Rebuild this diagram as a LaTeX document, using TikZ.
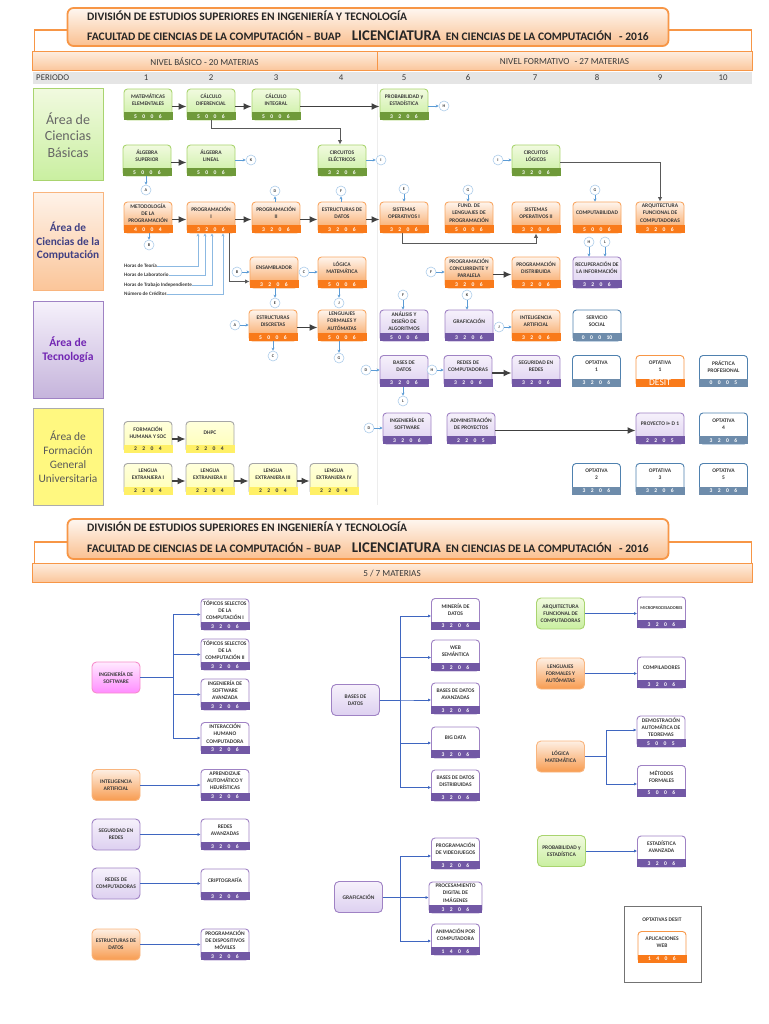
\documentclass[tikz,border=0pt]{standalone}
\usepackage{fontspec}
\setmainfont{Carlito}
\usetikzlibrary{calc,arrows.meta}
\definecolor{ink}{HTML}{3A3A3A}
\definecolor{hdr}{HTML}{F79646}
\definecolor{wire}{HTML}{5B9BD5}
\definecolor{busline}{HTML}{3F66C0}
\definecolor{grnedge}{HTML}{A9D46F}
\definecolor{grntop}{HTML}{F1FADF}
\definecolor{grnbot}{HTML}{C9EFA0}
\definecolor{grnbar}{HTML}{6F9A3A}
\definecolor{orgbar}{HTML}{F97A1A}
\definecolor{puredge}{HTML}{9F82C4}
\definecolor{purtop}{HTML}{F6F1FB}
\definecolor{purbot}{HTML}{DDD0F0}
\definecolor{purbar}{HTML}{7258A5}
\definecolor{yeltop}{HTML}{FFFFDC}
\definecolor{yelbot}{HTML}{FFFFB4}
\definecolor{yelbar}{HTML}{FFF066}
\definecolor{bluedge}{HTML}{4F81AF}
\definecolor{blubar}{HTML}{6E8CAB}
\newcommand{\subjfont}{\fontsize{5.5}{7.2}\selectfont\bfseries}
\newcommand{\bandfont}{\fontsize{5.6}{6}\selectfont\bfseries\spaceskip=5.4pt\relax}
\tikzset{%
  subj/.style={rectangle,rounded corners=3.5pt,minimum width=48pt,minimum height=31pt,
    inner sep=0pt,line width=.9pt,draw},
  band/.style={anchor=south,minimum width=49pt,minimum height=8pt,inner sep=0pt,
    text=white,font=\bandfont},
  subjtext/.style={align=center,inner sep=0pt,text=ink,font=\subjfont},
  grn/.style={subj,draw=grnedge,top color=grntop,bottom color=grnbot},
  grnband/.style={band,fill=grnbar},
  org/.style={subj,draw=hdr!85,top color=hdr!10,bottom color=hdr!90},
  orgband/.style={band,fill=orgbar},
  pur/.style={subj,draw=puredge,top color=purtop,bottom color=purbot},
  purband/.style={band,fill=purbar},
  yel/.style={subj,draw=gray!70,top color=yeltop,bottom color=yelbot},
  yelband/.style={band,fill=yelbar,text=ink},
  blu/.style={subj,draw=bluedge,fill=white},
  bluband/.style={band,fill=blubar},
  wpur/.style={subj,draw=puredge,fill=white},
  wpurband/.style={band,fill=purbar},
  wdes/.style={subj,draw=hdr,fill=white},
  wdesband/.style={band,fill=orgbar},
  srcbox/.style={rectangle,rounded corners=4.5pt,minimum width=48pt,minimum height=31pt,
    inner sep=0pt,align=center,line width=.9pt,draw,text=ink,font=\subjfont},
  srcorg/.style={srcbox,draw=hdr!70,top color=hdr!15,bottom color=hdr!95},
  srcpur/.style={srcbox,draw=puredge,top color=purtop,bottom color=purbot},
  srcgrn/.style={srcbox,draw=grnedge,top color=grntop,bottom color=grnbot},
  area/.style={minimum width=70pt,inner sep=0pt,align=center,line width=1pt,draw},
  ltr/.style={circle,draw=wire!50,fill=white,line width=.6pt,minimum size=10pt,inner sep=0pt,
    text=ink,font=\fontsize{4.2}{5}\selectfont\bfseries},
  link/.style={draw=wire,line width=.7pt,-{Stealth[length=3pt,width=3pt]}},
  next/.style={draw=black!75,line width=1.4pt,-{Latex[length=8pt,width=7pt]}},
  elbow/.style={draw=black!65,line width=1pt,-{Latex[length=4.5pt,width=4.5pt]}},
  legwire/.style={draw=wire!70,line width=.7pt,-{Stealth[length=3pt,width=3pt]}},
  branch/.style={draw=busline,line width=.9pt,-{Latex[length=3pt,width=3pt]}},
  banner/.style={rounded corners=6pt,draw=hdr,line width=1.8pt,top color=hdr!8,bottom color=hdr!60},
  backing/.style={draw=hdr,line width=1.8pt,fill=white,minimum width=717pt,minimum height=22pt,inner sep=0pt},
  strip/.style={draw=hdr,line width=1pt,top color=hdr!18,bottom color=hdr!55,inner sep=0pt,
    text=ink,font=\fontsize{9.2}{10}\selectfont},
  hline/.style={anchor=west,inner sep=0pt,text=black!85,font=\fontsize{11.5}{13}\selectfont\bfseries},
  per/.style={inner sep=0pt,text=ink,font=\fontsize{8.8}{10}\selectfont},
  leg/.style={anchor=west,inner sep=0pt,text=ink,font=\fontsize{5.1}{6}\selectfont\bfseries}
}
% box, band and text of one subject
\newcommand{\subj}[7][]{%
  \node[#2,#1] (#3) at (#4,#5) {};
  \node[#2band,#1] (#3b) at (#3.south) {#7};
  \node[subjtext] (#3t) at ([yshift=-11.5pt]#3.north) {#6};
}
\begin{document}
\begin{tikzpicture}[x=1pt,y=-1pt]
  \useasboundingbox (0,0) rectangle (768,1024);

  % first page head
  \node[backing] (back) at (393,41) {};
  \node[banner,minimum width=601pt,minimum height=38pt] (head) at (368,27) {};
  \node[hline] (hone) at (87,16) {DIVISIÓN DE ESTUDIOS SUPERIORES EN INGENIERÍA Y TECNOLOGÍA};
  \node[hline] (htwo) at (87,36) {FACULTAD DE CIENCIAS DE LA COMPUTACIÓN – BUAP\hspace{11pt}{\fontsize{14.8}{14}\selectfont LICENCIATURA}\hspace{5pt}EN CIENCIAS DE LA COMPUTACIÓN\hspace{5pt} - 2016};
  \node[strip,minimum width=345pt,minimum height=19pt] (basic) at (204.5,61.5) {NIVEL BÁSICO - 20 MATERIAS\hspace{29pt}};
  \node[strip,minimum width=375pt,minimum height=19pt] (form) at (564.5,61.5) {NIVEL FORMATIVO\hspace{3pt} - 27 MATERIAS\hspace{41pt}};
  \node[fill=black!10,minimum width=719pt,minimum height=12.5pt,inner sep=0pt] (bar) at (392.5,78) {};
  \node[per,anchor=west] (periodo) at (36,78) {PERIODO};
  \foreach \n/\x in {1/146,2/211,3/276,4/341,5/404,6/468,7/535,8/597,9/660,10/723}
    \node[per] (p\n) at (\x,78) {\n};
  \draw[black!7,line width=.6pt] (377,84) -- (377,505);

  % areas
  \node[area,draw=grnedge,top color=grntop,bottom color=grnbot,
    minimum height=92pt,text=black!60,font=\fontsize{14}{16.5}\selectfont] (acb) at (68,135) {Área de\\Ciencias\\Básicas};
  \node[area,draw=hdr!70,top color=hdr!12,bottom color=hdr!55,minimum height=97pt,
    text=blue!35!black!75,font=\fontsize{11.3}{13.6}\selectfont\bfseries] (acc) at (68,241.5) {Área de\\Ciencias de la\\Computación};
  \node[area,draw=puredge,top color=purtop,bottom color=puredge!60,minimum height=97pt,
    text=violet!70!blue!85,font=\fontsize{11.6}{14}\selectfont\bfseries] (atc) at (68,349.5) {Área de\\Tecnología};
  \node[area,draw=gray!65,fill=yellow!50,minimum height=97pt,text=black!65,
    font=\fontsize{11.4}{14}\selectfont] (afg) at (68,456.5) {Área de\\Formación\\General\\Universitaria};

  % ciencias basicas
  \subj{grn}{mat}{148}{104.5}{MATEMÁTICAS\\ELEMENTALES}{5 0 0 6}
  \subj{grn}{cdif}{211}{104.5}{CÁLCULO\\DIFERENCIAL}{5 0 0 6}
  \subj{grn}{cint}{276}{104.5}{CÁLCULO\\INTEGRAL}{5 0 0 6}
  \subj{grn}{prob}{404}{104.5}{PROBABILIDAD y\\ESTADÍSTICA}{3 2 0 6}
  \subj{grn}{alsup}{147}{160.5}{ÁLGEBRA\\SUPERIOR}{5 0 0 6}
  \subj{grn}{allin}{211}{160.5}{ÁLGEBRA\\LINEAL}{5 0 0 6}
  \subj{grn}{ceie}{342}{160.5}{CIRCUITOS\\ELÉCTRICOS}{3 2 0 6}
  \subj{grn}{clog}{536}{160.5}{CIRCUITOS\\LÓGICOS}{3 2 0 6}

  % ciencias de la computacion
  \subj{org}{met}{148}{217.5}{METODOLOGÍA\\DE LA\\PROGRAMACIÓN}{4 0 0 4}
  \subj{org}{pi}{211}{217.5}{PROGRAMACIÓN\\I}{3 2 0 6}
  \subj{org}{pii}{276}{217.5}{PROGRAMACIÓN\\II}{3 2 0 6}
  \subj{org}{edat}{342}{217.5}{ESTRUCTURAS DE\\DATOS}{3 2 0 6}
  \subj{org}{soi}{404}{217.5}{SISTEMAS\\OPERATIVOS I}{3 2 0 6}
  \subj{org}{fund}{469}{217.5}{FUND. DE\\LENGUAJES DE\\PROGRAMACIÓN}{5 0 0 6}
  \subj{org}{soii}{536}{217.5}{SISTEMAS\\OPERATIVOS II}{3 2 0 6}
  \subj{org}{comp}{597}{217.5}{COMPUTABILIDAD}{5 0 0 6}
  \subj{org}{arq}{660}{217.5}{ARQUITECTURA\\FUNCIONAL DE\\COMPUTADORAS}{3 2 0 6}
  \subj{org}{ens}{274}{272.5}{ENSAMBLADOR}{3 2 0 6}
  \subj{org}{lmat}{342}{272.5}{LÓGICA\\MATEMÁTICA}{5 0 0 6}
  \subj{org}{pcon}{469}{272.5}{PROGRAMACIÓN\\CONCURRENTE Y\\PARALELA}{3 2 0 6}
  \subj{org}{pdis}{536}{272.5}{PROGRAMACIÓN\\DISTRIBUIDA}{3 2 0 6}
  \subj{org}{edis}{273}{325.5}{ESTRUCTURAS\\DISCRETAS}{5 0 0 6}
  \subj{org}{lfor}{342}{325.5}{LENGUAJES\\FORMALES Y\\AUTÓMATAS}{5 0 0 6}
  \subj{org}{iart}{536}{325.5}{INTELIGENCIA\\ARTIFICIAL}{3 2 0 6}

  % tecnologia
  \subj{pur}{rinf}{597}{272.5}{RECUPERACIÓN DE\\LA INFORMACIÓN}{3 2 0 6}
  \subj{pur}{adis}{404}{325.5}{ANÁLISIS Y\\DISEÑO DE\\ALGORITMOS}{5 0 0 6}
  \subj{pur}{graf}{469}{325.5}{GRAFICACIÓN}{3 2 0 6}
  \subj{pur}{bdat}{404}{371}{BASES DE\\DATOS}{3 2 0 6}
  \subj{pur}{rcom}{468}{371}{REDES DE\\COMPUTADORAS}{3 2 0 6}
  \subj{pur}{sred}{536}{371}{SEGURIDAD EN\\REDES}{3 2 0 6}
  \subj{pur}{isof}{407}{428.5}{INGENIERÍA DE\\SOFTWARE}{3 2 0 6}
  \subj{pur}{apro}{471}{428.5}{ADMINISTRACIÓN\\DE PROYECTOS}{2 2 0 5}
  \subj{pur}{pidi}{660}{428.5}{PROYECTO I+ D 1}{2 2 0 5}

  % optativas
  \subj{blu}{ssoc}{597}{325.5}{SERVICIO\\SOCIAL}{0 0 0 10}
  \subj{blu}{opa}{596.5}{371}{OPTATIVA\\1}{3 2 0 6}
  \subj{wdes}{opd}{660}{371}{OPTATIVA\\1}{\fontsize{9.5}{9}\selectfont\mdseries DESIT}
  \subj{blu}{ppro}{723.5}{371}{PRÁCTICA\\PROFESIONAL}{0 0 0 5}
  \subj{blu}{opc}{723.5}{428.5}{OPTATIVA\\4}{3 2 0 6}
  \subj{blu}{opb}{596.5}{479}{OPTATIVA\\2}{3 2 0 6}
  \subj{blu}{opt}{660}{479}{OPTATIVA\\3}{3 2 0 6}
  \subj{blu}{opq}{723.5}{479}{OPTATIVA\\5}{3 2 0 6}

  % formacion general
  \subj{yel}{fhs}{148}{437}{FORMACIÓN\\HUMANA Y SOC}{2 2 0 4}
  \subj{yel}{dhpc}{210}{437}{DHPC}{2 2 0 4}
  \subj{yel}{lei}{148}{479}{LENGUA\\EXTRANJERA I}{2 2 0 4}
  \subj{yel}{leii}{210}{479}{LENGUA\\EXTRANJERA II}{2 2 0 4}
  \subj{yel}{leiii}{273}{479}{LENGUA\\EXTRANJERA III}{2 2 0 4}
  \subj{yel}{leiv}{334}{479}{LENGUA\\EXTRANJERA IV}{2 2 0 4}

  % letters
  \foreach \id/\tx/\x/\y in {aa/A/146/190,kk/K/251/160,ii/I/381/160,hh/H/444/106,ij/I/498/160,
      dd/D/275/191,ff/F/341/191,bb/B/149/245,ee/E/404/189,gg/G/468/190,gh/G/595/190,
      hi/H/589/242,ll/L/605/242,bc/B/237/272,cc/C/304/272,ef/E/275/303,jj/J/339/303,
      ab/A/235/325,cd/C/273/356,gi/G/339/358,fg/F/431/272,fh/F/403/295,kl/K/467/295,
      jk/J/499/327,de/D/366/370,hj/H/432/370,lm/L/403/401,df/D/369/428}
    \node[ltr] (\id) at (\x,\y) {\tx};
  \foreach \a/\b in {alsup/aa,met/bb,ens/ef,lmat/jj,edis/cd,lfor/gi,bdat/lm}
    \draw[link] (\b |- \a.south) -- (\b);
  \foreach \a/\b in {pii/dd,edat/ff}
    \draw[link] (\b |- \a.north) -- (\b);
  \foreach \a/\b in {allin/kk,ceie/ii,prob/hh}
    \draw[link] (\a.east |- \b) -- (\b);
  \foreach \b/\a in {ee/soi,gg/fund,gh/comp,hi/rinf,ll/rinf,fh/adis,kl/graf}
    \draw[link] (\b) -- (\b |- \a.north);
  \foreach \b/\a in {ij/clog,bc/ens,cc/lmat,ab/edis,fg/pcon,jk/iart,de/bdat,hj/rcom,df/isof}
    \draw[link] (\b) -- (\a.west |- \b);

  % straight lines between subjects
  \foreach \a/\b in {mat/cdif,cdif/cint,cint/prob,alsup/allin,met/pi,pi/pii,pii/edat,edat/soi,
      edis/lfor,pcon/pdis,rcom/sred,apro/pidi,fhs/dhpc,lei/leii,leii/leiii,leiii/leiv}
    \draw[next] ([yshift=-2pt]\a.east) -- ([yshift=-2pt]\b.west);

  % elbows
  \draw[elbow] (cdif.south) -- ++(0,8) -| ([xshift=-2pt]ceie.north);
  \draw[elbow] ([xshift=-2pt]soi.south) -- ++(0,10) -| (soii.south);
  \draw[elbow] ([yshift=-2pt]clog.east) -| (arq.north);
  \draw[elbow] ([xshift=18pt]pi.south) |- ([yshift=-9pt]ens.west);

  % legend
  \node[leg] (lht) at (124,266) {Horas de Teoría};
  \node[leg] (lhl) at (124,275) {Horas de Laboratorio};
  \node[leg] (lhi) at (124,285) {Horas de Trabajo Independiente};
  \node[leg] (lnc) at (124,294) {Número de Créditos};
  \draw[legwire] (lht.east) -| ([xshift=-13pt]pi.south);
  \draw[legwire] (lhl.east) -| ([xshift=-6pt]pi.south);
  \draw[legwire] (lhi.east) -| ([xshift=1pt]pi.south);
  \draw[legwire] (lnc.east) -| ([xshift=12pt]pi.south);

  % second page head
  \node[backing] (backb) at (393,553) {};
  \node[banner,minimum width=601pt,minimum height=40pt] (headb) at (368,539) {};
  \node[hline] (honeb) at (87,527) {DIVISIÓN DE ESTUDIOS SUPERIORES EN INGENIERÍA Y TECNOLOGÍA};
  \node[hline] (htwob) at (87,548) {FACULTAD DE CIENCIAS DE LA COMPUTACIÓN – BUAP\hspace{11pt}{\fontsize{14.8}{14}\selectfont LICENCIATURA}\hspace{5pt}EN CIENCIAS DE LA COMPUTACIÓN\hspace{5pt} - 2016};
  \node[strip,minimum width=720pt,minimum height=19pt] (mats) at (392,573) {5 / 7 MATERIAS\hspace{68pt}};

  % source boxes
  \node[srcbox,draw=magenta!45,top color=magenta!8,bottom color=magenta!45] (ingw) at (116,677.5) {INGENIERÍA DE\\SOFTWARE};
  \node[srcorg] (iaw) at (116,785) {INTELIGENCIA\\ARTIFICIAL};
  \node[srcpur] (srw) at (116,834.5) {SEGURIDAD EN\\REDES};
  \node[srcpur] (rcw) at (116,883.5) {REDES DE\\COMPUTADORAS};
  \node[srcorg] (edw) at (116,944.5) {ESTRUCTURAS DE\\DATOS};
  \node[srcpur] (bdw) at (355.5,700) {BASES DE\\DATOS};
  \node[srcpur] (grw) at (358.5,897) {GRAFICACIÓN};
  \node[srcgrn] (arw) at (560.5,613.5) {ARQUITECTURA\\FUNCIONAL DE\\COMPUTADORAS};
  \node[srcorg] (lfw) at (560.5,673.5) {LENGUAJES\\FORMALES Y\\AUTÓMATAS};
  \node[srcorg] (lmw) at (560.5,756.5) {LÓGICA\\MATEMÁTICA};
  \node[srcgrn] (prw) at (561.5,851) {PROBABILIDAD y\\ESTADÍSTICA};

  % targets
  \subj{wpur}{tsa}{225}{614.5}{TÓPICOS SELECTOS\\DE LA\\COMPUTACIÓN I}{3 2 0 6}
  \subj{wpur}{tsb}{225}{654.5}{TÓPICOS SELECTOS\\DE LA\\COMPUTACIÓN II}{3 2 0 6}
  \subj{wpur}{isa}{225}{694.5}{INGENIERÍA DE\\SOFTWARE\\AVANZADA}{3 2 0 6}
  \subj{wpur}{ihc}{225}{738}{INTERACCIÓN\\HUMANO\\COMPUTADORA}{3 2 0 6}
  \subj{wpur}{apr}{225}{785}{APRENDIZAJE\\AUTOMÁTICO Y\\HEURÍSTICAS}{3 2 0 6}
  \subj{wpur}{rav}{225}{834.5}{REDES\\AVANZADAS}{3 2 0 6}
  \subj{wpur}{cri}{225}{884.5}{CRIPTOGRAFÍA}{3 2 0 6}
  \subj{wpur}{pdm}{225}{944.5}{PROGRAMACIÓN\\DE DISPOSITIVOS\\MÓVILES}{3 2 0 6}
  \subj{wpur}{min}{455.5}{614}{MINERÍA DE\\DATOS}{3 2 0 6}
  \subj{wpur}{web}{455.5}{655.5}{WEB\\SEMÁNTICA}{3 2 0 6}
  \subj{wpur}{bda}{455.5}{698.5}{BASES DE DATOS\\AVANZADAS}{3 2 0 6}
  \subj{wpur}{big}{455.5}{742.5}{BIG DATA}{3 2 0 6}
  \subj{wpur}{bdd}{455.5}{785.5}{BASES DE DATOS\\DISTRIBUIDAS}{3 2 0 6}
  \subj{wpur}{pvj}{455.5}{853.5}{PROGRAMACIÓN\\DE VIDEOJUEGOS}{3 2 0 6}
  \subj[minimum width=53pt]{wpur}{pdi}{455.5}{897.5}{PROCESAMIENTO\\DIGITAL DE\\IMÁGENES}{3 2 0 6}
  \subj{wpur}{anc}{455.5}{939.5}{ANIMACIÓN POR\\COMPUTADORA}{1 4 0 6}
  \subj{wpur}{mic}{661.5}{612.5}{\fontsize{4.4}{6}\selectfont MICROPROCESADORES}{3 2 0 6}
  \subj{wpur}{cmp}{661.5}{672.5}{COMPILADORES}{3 2 0 6}
  \subj{wpur}{dem}{661}{731.5}{DEMOSTRACIÓN\\AUTOMÁTICA DE\\TEOREMAS}{5 0 0 5}
  \subj{wpur}{mfo}{661.5}{781}{MÉTODOS\\FORMALES}{5 0 0 6}
  \subj{wpur}{eav}{661.5}{851.5}{ESTADÍSTICA\\AVANZADA}{3 2 0 6}

  % branches
  \coordinate (busa) at (173,678);
  \coordinate (busb) at (400,700);
  \coordinate (busc) at (400,897);
  \coordinate (busd) at (606,757);
  \foreach \t in {tsa,tsb,isa,ihc}
    \draw[branch] (ingw.east) -- (busa |- ingw.east) |- (\t.west);
  \foreach \t/\d in {min/2,web/2,bda/1.5,big/.5,bdd/2}
    \draw[branch] (bdw.east) -- (busb |- bdw.east) |- ([yshift=-\d pt]\t.west);
  \foreach \t/\d in {pvj/2.5,pdi/0,anc/1.5}
    \draw[branch] (grw.east) -- (busc |- grw.east) |- ([yshift=-\d pt]\t.west);
  \foreach \t/\d in {dem/-1.5,mfo/3}
    \draw[branch] (lmw.east) -- (busd |- lmw.east) |- ([yshift=-\d pt]\t.west);
  \foreach \a/\b in {iaw/apr,srw/rav,rcw/cri,edw/pdm,arw/mic,lfw/cmp,prw/eav}
    \draw[branch] (\a.east) -- (\a.east -| \b.west);

  % desit box
  \node[draw=black!55,line width=1pt,minimum width=77.5pt,minimum height=76pt,inner sep=0pt] (desit) at (663,944) {};
  \node[subjtext] (desitt) at (662,920) {OPTATIVAS DESIT};
  \subj{wdes}{apw}{662}{947}{APLICACIONES\\WEB}{1 4 0 6}
\end{tikzpicture}
\end{document}
